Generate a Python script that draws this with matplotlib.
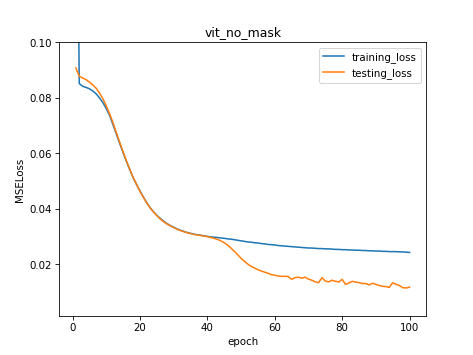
import matplotlib
matplotlib.use("Agg")
import matplotlib.pyplot as plt

epochs = list(range(1, 101))

training_loss = [
    0.2130, 0.0852, 0.0842, 0.0838, 0.0833, 0.0825, 0.0815, 0.0800, 0.0783, 0.0762,
    0.0737, 0.0704, 0.0670, 0.0636, 0.0603, 0.0571, 0.0541, 0.0512, 0.0488, 0.0465,
    0.0443, 0.0423, 0.0405, 0.0390, 0.0377, 0.0366, 0.0356, 0.0347, 0.0340, 0.0334,
    0.0328, 0.0323, 0.0319, 0.0315, 0.0312, 0.0309, 0.0307, 0.0305, 0.0303, 0.0301,
    0.0299, 0.0298, 0.0297, 0.0295, 0.0294, 0.0292, 0.0291, 0.0289, 0.0287, 0.0285,
    0.0283, 0.0281, 0.0280, 0.0278, 0.0277, 0.0275, 0.0274, 0.0272, 0.0271, 0.0270,
    0.0268, 0.0267, 0.0266, 0.0265, 0.0264, 0.0263, 0.0262, 0.0261, 0.0260, 0.0259,
    0.0259, 0.0258, 0.0257, 0.0257, 0.0256, 0.0256, 0.0255, 0.0254, 0.0254, 0.0253,
    0.0253, 0.0252, 0.0252, 0.0251, 0.0251, 0.0250, 0.0250, 0.0249, 0.0249, 0.0248,
    0.0248, 0.0247, 0.0247, 0.0246, 0.0246, 0.0246, 0.0245, 0.0245, 0.0244, 0.0243,
]

testing_loss = [
    0.0908, 0.0878, 0.0872, 0.0866, 0.0857, 0.0847, 0.0835, 0.0818, 0.0797, 0.0772,
    0.0743, 0.0711, 0.0675, 0.0640, 0.0606, 0.0573, 0.0542, 0.0513, 0.0488, 0.0464,
    0.0442, 0.0422, 0.0404, 0.0389, 0.0376, 0.0364, 0.0354, 0.0346, 0.0339, 0.0333,
    0.0327, 0.0322, 0.0318, 0.0314, 0.0311, 0.0308, 0.0306, 0.0304, 0.0302, 0.0300,
    0.0297, 0.0294, 0.0290, 0.0285, 0.0278, 0.0270, 0.0259, 0.0247, 0.0235, 0.0222,
    0.0211, 0.0201, 0.0193, 0.0187, 0.0181, 0.0176, 0.0172, 0.0168, 0.0163, 0.0161,
    0.0158, 0.0157, 0.0157, 0.0156, 0.0146, 0.0152, 0.0154, 0.0150, 0.0154, 0.0147,
    0.0143, 0.0137, 0.0134, 0.0152, 0.0140, 0.0137, 0.0143, 0.0139, 0.0137, 0.0146,
    0.0128, 0.0133, 0.0139, 0.0136, 0.0134, 0.0131, 0.0131, 0.0126, 0.0132, 0.0128,
    0.0124, 0.0121, 0.0120, 0.0117, 0.0134, 0.0128, 0.0124, 0.0116, 0.0115, 0.0118,
]

plt.figure(figsize=(6.4, 4.8), dpi=74)
plt.plot(epochs, training_loss, label="training_loss")
plt.plot(epochs, testing_loss, label="testing_loss")
plt.ylim(top=0.1)
plt.xlabel("epoch")
plt.ylabel("MSELoss")
plt.title("vit_no_mask")
plt.legend()
plt.savefig("out.png", dpi=74)
